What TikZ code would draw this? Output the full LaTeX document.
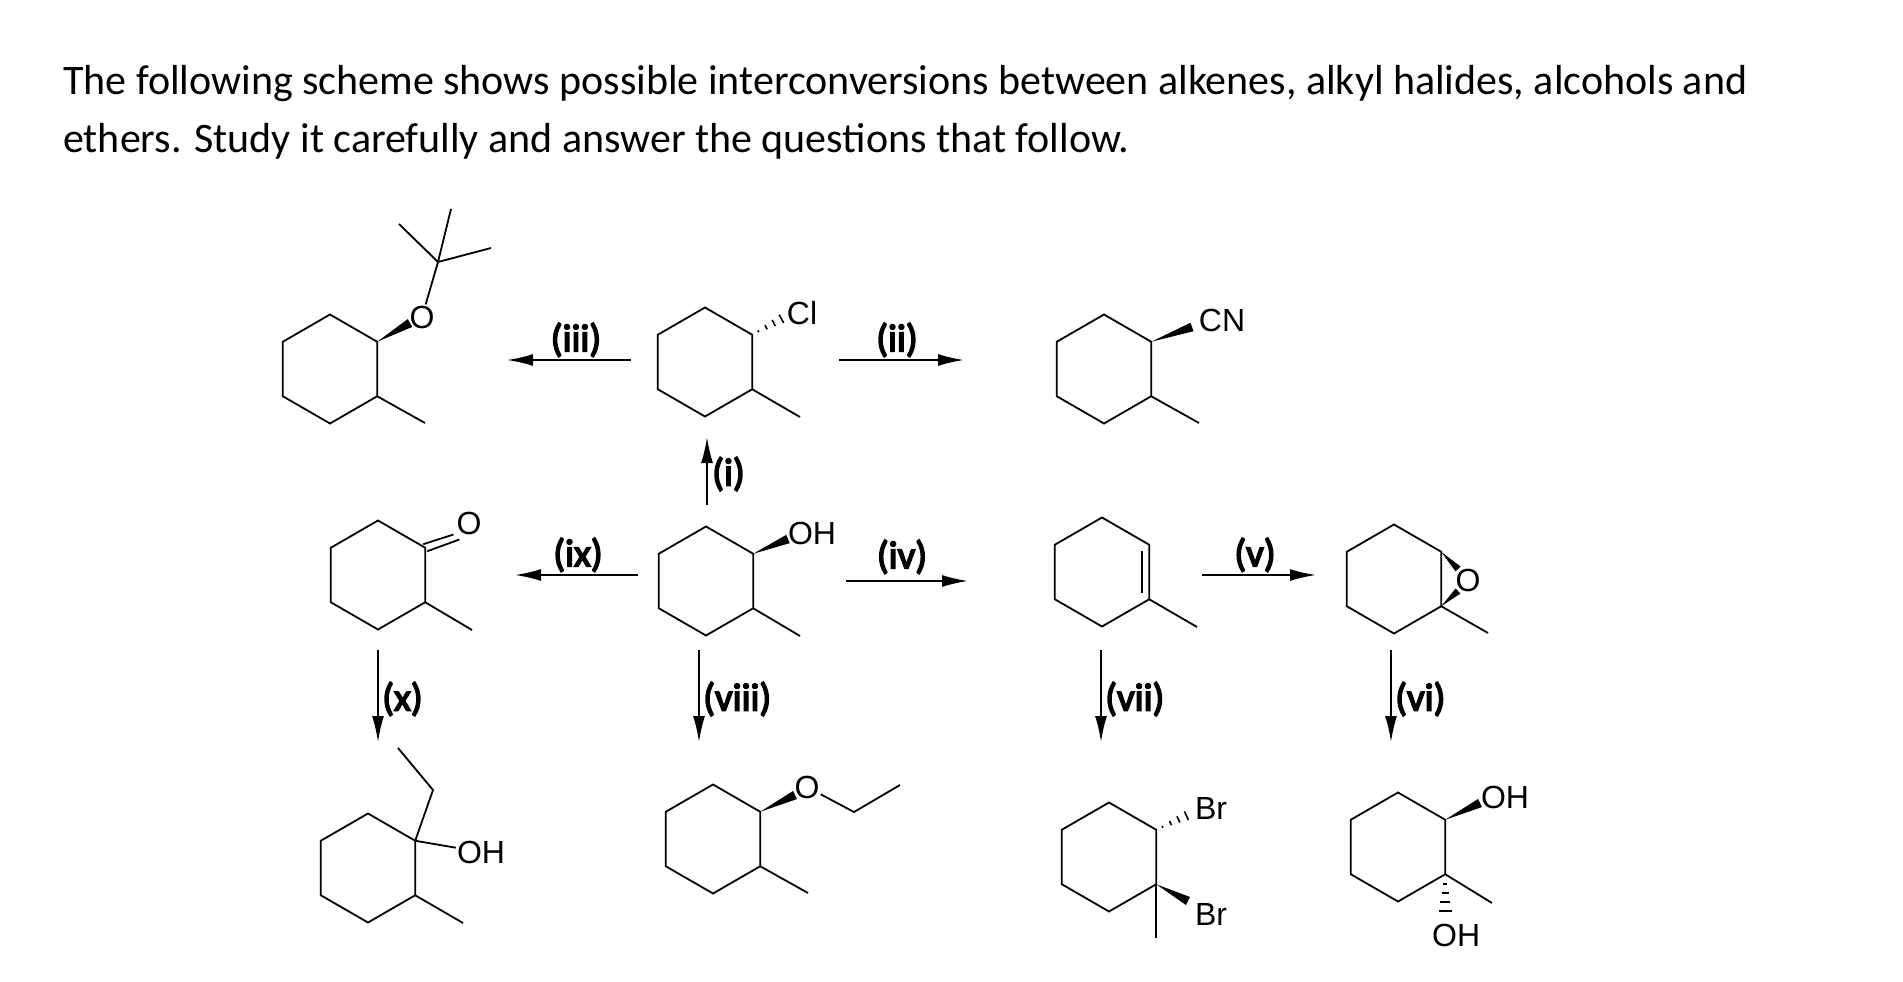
\documentclass[tikz,border=0pt]{standalone}
\usepackage{fontspec}
\setmainfont{Carlito}
\newfontfamily\chemfont{Liberation Sans}
\newfontfamily\labfont{Carlito}[FakeBold=4]
\usetikzlibrary{calc,arrows.meta}
\newcommand\hexring[3]{%
  \coordinate (#1t) at (#2,#3-54.5);
  \coordinate (#1ur) at (#2+47.2,#3-27.25);
  \coordinate (#1lr) at (#2+47.2,#3+27.25);
  \coordinate (#1b) at (#2,#3+54.5);
  \coordinate (#1ll) at (#2-47.2,#3+27.25);
  \coordinate (#1ul) at (#2-47.2,#3-27.25);
  \draw[bond] (#1t)--(#1ur)--(#1lr)--(#1b)--(#1ll)--(#1ul)--cycle;}
\newcommand\wdg[3][4.5pt]{\fill ($(#3)!#1!90:(#2)$) -- (#2) -- ($(#3)!#1!-90:(#2)$) -- cycle;}
\newcommand\hsh[2]{\foreach \t in {0.2,0.45,0.7,0.95}{%
  \coordinate (hp) at ($(#1)!\t!(#2)$);
  \draw[line width=1.6pt] ($(hp)!\t*5pt!90:(#2)$) -- ($(hp)!\t*5pt!-90:(#2)$);}}
\tikzset{bond/.style={line width=1.8pt,line join=miter},
  atom/.style={font=\chemfont\fontsize{32}{34}\selectfont,inner sep=1pt},
  rxn/.style={line width=1.8pt,-{Latex[length=26pt,width=12pt]}},
  lab/.style={font=\labfont\fontsize{39}{40}\selectfont,inner sep=0pt}}
\begin{document}
\begin{tikzpicture}[x=1pt,y=-1pt]
\useasboundingbox (0,0) rectangle (1903,982);
\node[anchor=base west,inner sep=0,font=\fontsize{42}{48}\selectfont] (t1) at (63,94) {The following scheme shows possible interconversions between alkenes, alkyl halides, alcohols and};
\node[anchor=base west,inner sep=0,font=\fontsize{42}{48}\selectfont] (t2) at (63,152) {ethers. Study it carefully and answer the questions that follow.};
% M1
\hexring{a}{330}{369}
\node[atom] (o1) at (422,317) {O};
\wdg{aur}{410,323}
\coordinate (tb) at (438,262);
\draw[bond] (o1) -- (tb);
\draw[bond] (tb)--(451,209) (tb)--(491,248) (tb)--(399,224);
\draw[bond] (alr)--(425,423);
% M2
\hexring{b}{705}{362}
\node[atom] (cl) at (802,313) {Cl};
\hsh{bur}{783,318}
\draw[bond] (blr)--(800,417);
% M3
\hexring{c}{1104}{369}
\node[atom] (cn) at (1222,320) {CN};
\wdg{cur}{1192,327}
\draw[bond] (clr)--(1199,423);
% M4
\hexring{d}{378}{575}
\node[atom] (o4) at (469,523) {O};
\draw[bond] ($(dur)+(-2,-3.5)$) -- ($(o4.south west)+(-2,-1)$);
\draw[bond] ($(dur)+(2,3.5)$) -- ($(o4.south west)+(4,4)$);
\draw[bond] (dlr)--(472,630);
% M5
\hexring{e}{706}{581}
\node[atom] (oh5) at (812,533) {OH};
\wdg{eur}{788,539}
\draw[bond] (elr)--(800,636);
% M6
\hexring{f}{1102}{572}
\draw[bond] ($(fur)+(-7,6)$) -- ($(flr)+(-7,-6)$);
\draw[bond] (flr)--(1197,627);
% M7
\hexring{g}{1394}{579}
\node[atom] (o7) at (1468,580) {O};
\wdg[3.5pt]{gur}{1458,569}
\wdg[3.5pt]{glr}{1458,591}
\draw[bond] (glr)--(1488,633);
% M8
\hexring{h}{368}{868}
\node[atom] (oh8) at (481,852) {OH};
\draw[bond] (hur)--(oh8);
\draw[bond] (hur)--(433,790)--(398,748);
\draw[bond] (hlr)--(463,923);
% M9
\hexring{k}{713}{839}
\node[atom] (o9) at (807,787) {O};
\wdg{kur}{795,795}
\draw[bond] (o9)--(854,812)--(900,785);
\draw[bond] (klr)--(808,893);
% M10
\hexring{m}{1109}{857}
\node[atom] (br1) at (1211,808) {Br};
\node[atom] (br2) at (1211,914) {Br};
\hsh{mur}{1188,815}
\wdg{mlr}{1188,901}
\draw[bond] (mlr)--(1156.2,938);
% M11
\hexring{n}{1398}{847}
\node[atom] (oh11a) at (1505,797) {OH};
\node[atom,anchor=west] (oh11b) at (1431,935) {OH};
\wdg{nur}{1480,803}
\foreach \yy/\w in {884/2,893/3.5,902/5,911/6.5}{\draw[line width=1.6pt] (1445.2-\w,\yy)--(1445.2+\w,\yy);}
\draw[bond] (nlr)--(1492,903);
% arrows
\draw[rxn] (631,360) -- (507,360);
\node[lab,anchor=south] (l3) at (576,357) {(iii)};
\draw[rxn] (839,360) -- (964,360);
\node[lab,anchor=south] (l2) at (897,357) {(ii)};
\draw[rxn] (707,505) -- (707,437);
\node[lab,anchor=west] (l1) at (712,474) {(i)};
\draw[rxn] (638,575) -- (515,575);
\node[lab,anchor=south] (l9) at (578,572) {(ix)};
\draw[rxn] (846,581) -- (968,581);
\node[lab,anchor=south] (l4) at (902,574) {(iv)};
\draw[rxn] (1202,575) -- (1316,575);
\node[lab,anchor=south] (l5) at (1255,572) {(v)};
\foreach \xx/\tt in {378/(x),699/(viii),1101/(vii),1391/(vi)}{
  \draw[rxn] (\xx,650) -- (\xx,742);
  \node[lab,anchor=west] at (\xx+4,699) {\tt};}
\end{tikzpicture}
\end{document}
